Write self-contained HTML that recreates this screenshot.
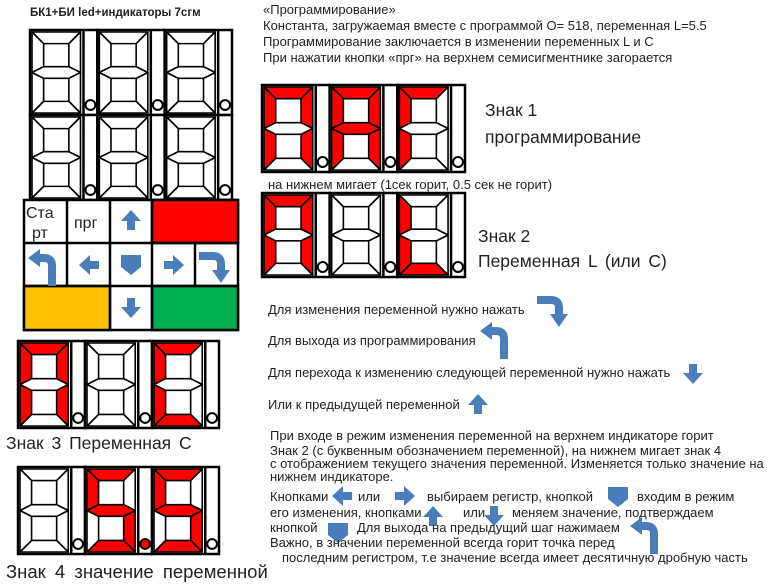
<!DOCTYPE html>
<html><head><meta charset="utf-8"><style>
html,body{margin:0;padding:0;background:#fff;width:780px;height:585px;overflow:hidden}
svg{display:block}
text{font-family:"Liberation Sans","DejaVu Sans",sans-serif;fill:#222}
.s{font-size:13px}
.b{font-size:17.5px}
</style></head><body>
<svg id="sv" width="780" height="585" viewBox="0 0 780 585" xmlns="http://www.w3.org/2000/svg">
<defs>
<g id="dn"><polygon points="6,0 14,0 14,9 20,9 10,20 0,9 6,9" fill="#4a7ebb"/></g>
<g id="up"><polygon points="6,20 14,20 14,11 20,11 10,0 0,11 6,11" fill="#4a7ebb"/></g>
<g id="lf"><polygon points="20,6 20,14 11,14 11,20 0,10 11,0 11,6" fill="#4a7ebb"/></g>
<g id="rt"><polygon points="0,6 0,14 9,14 9,20 20,10 9,0 9,6" fill="#4a7ebb"/></g>
<g id="pe"><polygon points="0,0 20,0 20,12 10,20 0,12" fill="#4a7ebb"/></g>
<g id="brd"><path d="M0,6 H14 Q22,6 22,14 V22" fill="none" stroke="#4a7ebb" stroke-width="8"/><polygon points="13,20 31,20 22,33" fill="#4a7ebb"/></g>
<g id="blu"><path d="M24,34 V14 Q24,6 16,6 H10" fill="none" stroke="#4a7ebb" stroke-width="8"/><polygon points="12,-3 12,15 0,6" fill="#4a7ebb"/></g>
</defs>
<g id="digits"></g>

<text x="30" y="16" style="font-size:11.5px;font-weight:bold">БК1+БИ led+индикаторы 7сгм</text>

<g stroke="#000" stroke-width="2.5">
<rect x="24" y="200" width="214" height="130" fill="#fff"/>
<rect x="152" y="200" width="86" height="43" fill="#f00"/>
<rect x="24" y="286" width="86" height="44" fill="#ffc000"/>
<rect x="152" y="286" width="86" height="44" fill="#00b050"/>
<line x1="67" y1="200" x2="67" y2="286"/><line x1="110" y1="200" x2="110" y2="330"/>
<line x1="152" y1="200" x2="152" y2="330"/><line x1="195" y1="243" x2="195" y2="286"/>
<line x1="24" y1="243" x2="238" y2="243"/><line x1="24" y1="286" x2="238" y2="286"/>
</g>
<text x="26" y="218" style="font-size:16px">Ста</text>
<text x="32" y="238" style="font-size:16px">рт</text>
<text x="74" y="228" style="font-size:16px">прг</text>
<use href="#up" x="121" y="210"/>
<use href="#blu" x="28" y="252"/>
<use href="#lf" x="79" y="255"/>
<use href="#pe" x="121" y="255"/>
<use href="#rt" x="164" y="255"/>
<use href="#brd" x="199" y="250"/>
<use href="#dn" x="121" y="298"/>

<text x="263" y="14" class="s">«Программирование»</text>
<text x="263" y="30" class="s">Константа, загружаемая вместе с программой  O= 518, переменная L=5.5</text>
<text x="263" y="46" class="s">Программирование заключается в изменении переменных  L и С</text>
<text x="263" y="62" class="s">При нажатии кнопки «прг» на верхнем семисигментнике загорается</text>
<text x="268" y="189" class="s">на нижнем мигает (1сек горит, 0.5 сек не горит)</text>
<text x="485" y="116" class="b">Знак 1</text>
<text x="485" y="143" class="b">программирование</text>
<text x="478" y="242" class="b">Знак 2</text>
<text x="478" y="267" class="b" style="word-spacing:3px">Переменная L (или С)</text>
<text x="6" y="449" style="font-size:17.5px;word-spacing:3px">Знак 3 Переменная  С</text>
<text x="6" y="578" style="font-size:18.5px;word-spacing:4px">Знак 4 значение переменной</text>

<text x="268" y="314" class="s">Для изменения переменной нужно нажать</text>
<use href="#brd" x="537" y="294"/>
<text x="268" y="345" class="s">Для выхода из программирования</text>
<use href="#blu" x="480" y="325"/>
<text x="268" y="377" class="s">Для перехода к изменению следующей переменной нужно нажать</text>
<use href="#dn" x="683" y="364"/>
<text x="268" y="409" class="s">Или к предыдущей переменной</text>
<use href="#up" x="468" y="394"/>

<text x="270" y="440" class="s">При входе в режим изменения переменной на верхнем индикаторе горит</text>
<text x="270" y="455" class="s">Знак 2 (с буквенным обозначением переменной), на нижнем мигает знак 4</text>
<text x="270" y="468" class="s">с отображением текущего значения переменной. Изменяется только значение на</text>
<text x="270" y="481" class="s">нижнем индикаторе.</text>
<text x="270" y="501" class="s">Кнопками</text>
<use href="#lf" x="332" y="486"/>
<text x="358" y="501" class="s">или</text>
<use href="#rt" x="395" y="486"/>
<text x="427" y="501" class="s">выбираем  регистр, кнопкой</text>
<use href="#pe" x="608" y="487"/>
<text x="637" y="501" class="s">входим в режим</text>
<text x="270" y="517" class="s">его изменения, кнопками</text>
<use href="#up" x="423" y="506"/>
<text x="463" y="517" class="s">или</text>
<use href="#dn" x="484" y="506"/>
<text x="512" y="517" class="s">меняем значение, подтверждаем</text>
<text x="270" y="532" class="s">кнопкой</text>
<use href="#pe" x="328" y="523"/>
<text x="357" y="532" class="s">Для выхода на предыдущий шаг нажимаем</text>
<use href="#blu" x="630" y="520"/>
<text x="270" y="547" class="s">Важно, в значении переменной всегда горит точка перед</text>
<text x="282" y="562" class="s">последним регистром, т.е значение всегда имеет десятичную дробную часть</text>
</svg>
<script>
(function(){
var NS="http://www.w3.org/2000/svg",g=document.getElementById("digits");
function poly(pts,fill){var p=document.createElementNS(NS,"polygon");p.setAttribute("points",pts.map(function(q){return q.join(",")}).join(" "));p.setAttribute("fill",fill);p.setAttribute("stroke","#000");p.setAttribute("stroke-width","1.6");p.setAttribute("stroke-linejoin","round");g.appendChild(p);}
function el(n,a){var e=document.createElementNS(NS,n);for(var k in a)e.setAttribute(k,a[k]);g.appendChild(e);}
function digit(x,y,cw,H,lit,dot){
  el("rect",{x:x,y:y,width:cw,height:H,fill:"#fff",stroke:"#000","stroke-width":"2.5"});
  var W=cw*0.72,sx=x+2,sy=y+2,h=H-4,t=W*0.24,m=h/2;
  var R="#f00",F="#fff";
  function c(s){return lit.indexOf(s)>=0?R:F;}
  poly([[sx,sy],[sx+W,sy],[sx+W-t,sy+t],[sx+t,sy+t]],c("a"));
  poly([[sx+W,sy],[sx+W,sy+m],[sx+W-t,sy+m-t/2],[sx+W-t,sy+t]],c("b"));
  poly([[sx+W,sy+m],[sx+W,sy+h],[sx+W-t,sy+h-t],[sx+W-t,sy+m+t/2]],c("c"));
  poly([[sx,sy+h],[sx+W,sy+h],[sx+W-t,sy+h-t],[sx+t,sy+h-t]],c("d"));
  poly([[sx,sy+m],[sx,sy+h],[sx+t,sy+h-t],[sx+t,sy+m+t/2]],c("e"));
  poly([[sx,sy],[sx,sy+m],[sx+t,sy+m-t/2],[sx+t,sy+t]],c("f"));
  poly([[sx,sy+m],[sx+t,sy+m-t/2],[sx+W-t,sy+m-t/2],[sx+W,sy+m],[sx+W-t,sy+m+t/2],[sx+t,sy+m+t/2]],c("g"));
  var lx=sx+W+3;
  el("line",{x1:lx,y1:y,x2:lx,y2:y+H,stroke:"#000","stroke-width":"2.5"});
  var dcx=(lx+x+cw)/2;
  el("circle",{cx:dcx,cy:y+H-10,r:Math.min(6,(x+cw-lx)/2-2),fill:dot?"#f00":"#fff",stroke:"#000","stroke-width":"2"});
}
function row(x,y,w,H,pats,dots){var cw=w/3;for(var i=0;i<3;i++)digit(x+i*cw,y,cw,H,pats[i],dots&&dots[i]);}
row(30,30,202,85,["","",""]);
row(30,115,202,85,["","",""]);
row(262,85,203,87,["abcef","abcefg","aef"]);
row(262,193,203,84,["abcef","","def"]);
row(18,341,201,87,["abcef","","adef"]);
row(18,467,201,87,["","acdfg","acdfg"],[0,1,0]);
})();
</script>
</body></html>
